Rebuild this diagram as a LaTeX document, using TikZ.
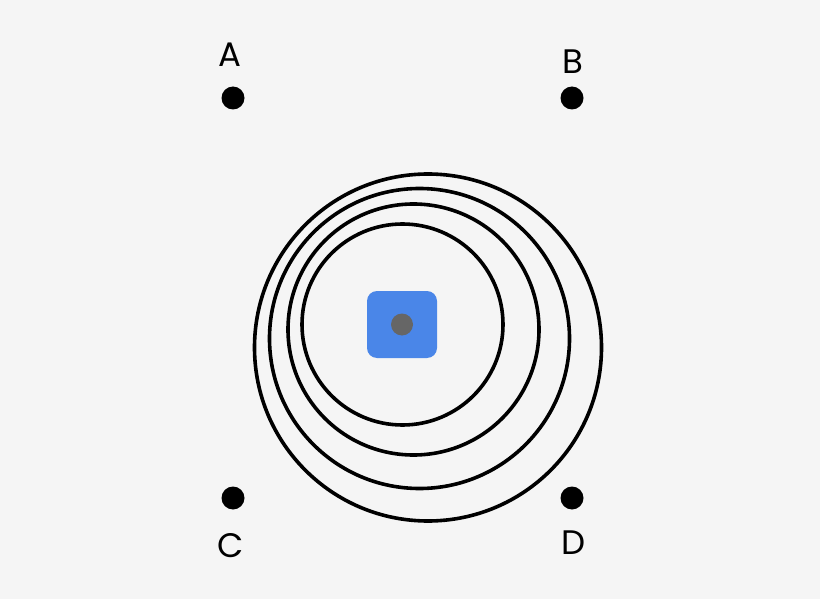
\documentclass[tikz,border=0pt]{standalone}
\usepackage{fontspec}
\setmainfont{Poppins}
\usepackage{xcolor}
\definecolor{paper}{RGB}{245,245,245}
\definecolor{sensor}{RGB}{74,134,232}
\definecolor{source}{RGB}{102,102,102}
\tikzstyle{station}=[circle, fill=black, inner sep=0pt, minimum size=23pt]
\tikzstyle{ring}=[circle, draw=black, line width=3.6pt, inner sep=0pt]
\tikzset{letter/.style={font=\fontsize{34}{34}\selectfont, inner sep=0pt}}

\begin{document}
\begin{tikzpicture}[x=1pt,y=-1pt]
  \fill[paper] (0,0) rectangle (820,599);
  \useasboundingbox (0,0) rectangle (820,599);
  \draw (233,98) node[station] (A) {};
  \draw (572,98) node[station] (B) {};
  \draw (233,498) node[station] (C) {};
  \draw (572,498) node[station] (D) {};

  \draw (230,55) node[letter] (labA) {A};
  \draw (573,62) node[letter] (labB) {B};
  \draw (231,546) node[letter] (labC) {C};
  \draw (574,543) node[letter] (labD) {D};

  %% wave fronts
  \draw (428,347.5) node[ring,minimum size=347pt] (R4) {};
  \draw (419.5,338.5) node[ring,minimum size=300pt] (R3) {};
  \draw (413.5,329.5) node[ring,minimum size=251pt] (R2) {};
  \draw (402.5,324.5) node[ring,minimum size=201pt] (R1) {};

  %% moving source
  \draw (402,324.5) node[fill=sensor, rounded corners=10pt, minimum width=70pt, minimum height=67pt] (box) {};
  \draw (box.center) node[circle, fill=source, inner sep=0pt, minimum size=22pt] (src) {};
\end{tikzpicture}
\end{document}
